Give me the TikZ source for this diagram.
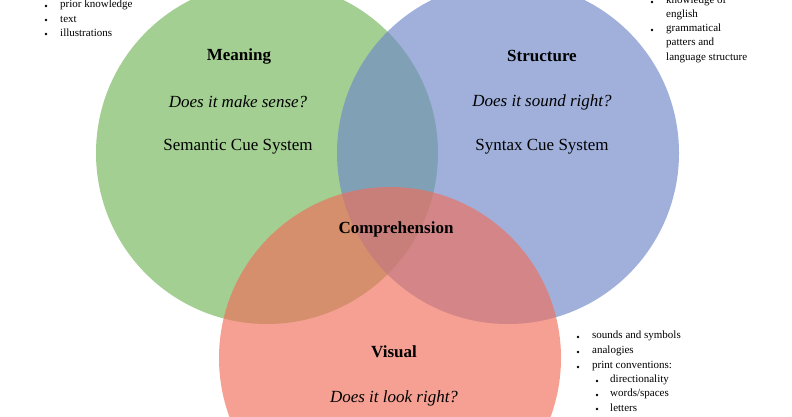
\documentclass[tikz,border=0pt]{standalone}
\usepackage{fontspec}
\setmainfont{Liberation Serif}
\begin{document}
\begin{tikzpicture}[x=1pt,y=-1pt,
  venn/.style={circle,minimum size=342pt,inner sep=0pt},
  lab/.style={font=\fontsize{17}{20}\selectfont},
  small/.style={font=\fontsize{11}{14}\selectfont,anchor=west,inner sep=0pt},
  dot/.style={circle,fill=black,inner sep=0pt,minimum size=2.6pt}]
\useasboundingbox (0,0) rectangle (792,416);
\fill[white] (0,0) rectangle (792,416);
\begin{scope}
\clip (0,0) rectangle (792,416);
\node[venn,fill={rgb,255:red,140;green,195;blue,120},fill opacity=0.8] (g) at (267,153) {};
\node[venn,fill={rgb,255:red,110;green,135;blue,200},fill opacity=0.65] (b) at (508,153) {};
\node[venn,fill={rgb,255:red,240;green,110;blue,90},fill opacity=0.65] (r) at (390,358) {};
\end{scope}
\node[lab,font=\fontsize{17}{20}\selectfont\bfseries] (m) at (239,56) {Meaning};
\node[lab,font=\fontsize{17}{20}\selectfont\itshape] (m2) at (238,102) {Does it make sense?};
\node[lab] (m3) at (238,147) {Semantic Cue System};
\node[lab,font=\fontsize{17}{20}\selectfont\bfseries] (s) at (542,56) {Structure};
\node[lab,font=\fontsize{17}{20}\selectfont\itshape] (s2) at (542,102) {Does it sound right?};
\node[lab] (s3) at (542,147) {Syntax Cue System};
\node[lab,font=\fontsize{17}{20}\selectfont\bfseries] (c) at (396,229) {Comprehension};
\node[lab,font=\fontsize{17}{20}\selectfont\bfseries] (v) at (394,352) {Visual};
\node[lab,font=\fontsize{17}{20}\selectfont\itshape] (v2) at (394,398) {Does it look right?};
% top-left
\foreach \y/\t [count=\i] in {5/prior knowledge,19/text,33/illustrations}{
  \node[dot] (tld\i) at (46,\y+1) {};
  \node[small] (tl\i) at (60,\y) {\t};}
% top-right
\foreach \y/\t [count=\i] in {1/knowledge of,15/english,29/grammatical,43/patters and,58/language structure}{
  \node[small] (tr\i) at (666,\y) {\t};}
\node[dot] (trd1) at (652,2) {};
\node[dot] (trd2) at (652,30) {};
% bottom-right
\foreach \y/\t [count=\i] in {336/sounds and symbols,351/analogies,366/print conventions:}{
  \node[dot] (brd\i) at (578,\y+1) {};
  \node[small] (br\i) at (592,\y) {\t};}
\foreach \y/\t [count=\i] in {380/directionality,394/{words/spaces},408/letters}{
  \node[dot] (bsd\i) at (597,\y+1) {};
  \node[small] (bs\i) at (610,\y) {\t};}
\end{tikzpicture}
\end{document}
